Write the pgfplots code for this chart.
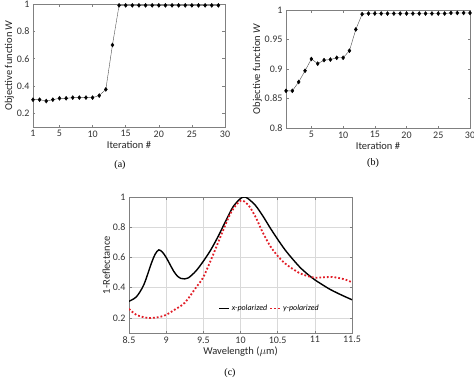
\documentclass[border=0pt]{standalone}
\usepackage{fontspec}
\setmainfont{Carlito}
\newfontfamily\capfont{Liberation Serif}
\usepackage{pgfplots}
\pgfplotsset{compat=1.18}
\definecolor{myred}{RGB}{225,30,40}
\begin{document}
\begin{tikzpicture}
\useasboundingbox (0pt,0pt) rectangle (474pt,384pt);
\pgfplotsset{
  every axis/.append style={
    scale only axis,
    /pgf/number format/assume math mode=true,
    tick label style={font=\fontsize{10}{11}\selectfont, text=black!80},
    label style={font=\fontsize{10.5}{12}\selectfont, text=black!85},
    axis line style={gray},
    every tick/.style={gray},
    tick align=inside,
    major tick length=2.5pt,
  }
}
% (a)
\begin{axis}[at={(33pt,257pt)}, anchor=south west, width=192pt, height=123pt,
  xmin=1, xmax=30, ymin=0.1, ymax=1,
  xtick={1,5,10,15,20,25,30}, ytick={0.2,0.4,0.6,0.8,1},
  xlabel={Iteration \#}, ylabel={Objective function \textit{W}},
  xlabel style={yshift=3pt}, ylabel style={yshift=-4pt},
  clip=false]
\addplot[black!70, thin, mark=diamond*, mark size=2pt, mark options={black, fill=black}] coordinates {
(1,0.30)(2,0.30)(3,0.29)(4,0.30)(5,0.31)(6,0.31)(7,0.315)(8,0.315)(9,0.315)(10,0.315)
(11,0.33)(12,0.375)(13,0.70)(14,0.99)(15,0.99)(16,0.99)(17,0.99)(18,0.99)(19,0.99)(20,0.99)
(21,0.99)(22,0.99)(23,0.99)(24,0.99)(25,0.99)(26,0.99)(27,0.99)(28,0.99)(29,0.99)};
\end{axis}
% (b)
\begin{axis}[at={(286pt,256pt)}, anchor=south west, width=184pt, height=118pt,
  xmin=1, xmax=30, ymin=0.8, ymax=1,
  xtick={5,10,15,20,25,30}, ytick={0.8,0.85,0.9,0.95,1},
  yticklabels={0.8,0.85,0.9,0.95,1},
  xlabel={Iteration \#}, ylabel={Objective function \textit{W}},
  xlabel style={yshift=3pt}, ylabel style={yshift=-4pt},
  clip=false]
\addplot[black!70, thin, mark=diamond*, mark size=2pt, mark options={black, fill=black}] coordinates {
(1,0.863)(2,0.863)(3,0.878)(4,0.897)(5,0.917)(6,0.909)(7,0.915)(8,0.916)(9,0.919)(10,0.919)
(11,0.931)(12,0.967)(13,0.993)(14,0.994)(15,0.994)(16,0.994)(17,0.994)(18,0.994)(19,0.994)(20,0.994)
(21,0.994)(22,0.994)(23,0.994)(24,0.994)(25,0.994)(26,0.994)(27,0.995)(28,0.995)(29,0.995)(30,0.995)};
\end{axis}
% (c)
\begin{axis}[at={(129pt,51pt)}, anchor=south west, width=223pt, height=136pt,
  xmin=8.5, xmax=11.5, ymin=0.1, ymax=1,
  xtick={8.5,9,9.5,10,10.5,11,11.5}, ytick={0.2,0.4,0.6,0.8,1},
  xticklabels={8.5,9,9.5,10,10.5,11,11.5},
  grid=major, grid style={black!15},
  xlabel={Wavelength ($\mu$m)}, ylabel={1-Reflectance},
  xlabel style={yshift=3pt}, ylabel style={yshift=-4pt},
  legend style={at={(0.4,0.18)}, anchor=west, draw=none, fill=none,
    font=\fontsize{8}{9}\selectfont\itshape, legend columns=2,
    /tikz/every even column/.append style={column sep=0pt},
    inner sep=0pt},
  legend image code/.code={\draw[#1] (0pt,0pt) -- (10pt,0pt);}]
\addplot[black, line width=1.4pt, smooth] coordinates {
(8.5,0.31)(8.6,0.34)(8.7,0.42)(8.8,0.56)(8.85,0.62)(8.9,0.65)(8.95,0.635)(9.0,0.60)(9.05,0.555)(9.1,0.51)
(9.15,0.477)(9.2,0.461)(9.25,0.458)(9.3,0.465)(9.4,0.51)(9.5,0.575)(9.6,0.65)(9.7,0.74)(9.8,0.84)(9.9,0.935)
(10.0,0.99)(10.05,1.0)(10.1,0.99)
(10.2,0.945)(10.3,0.875)(10.4,0.795)(10.5,0.72)(10.6,0.65)(10.7,0.59)(10.8,0.535)(10.9,0.49)(11.0,0.452)
(11.1,0.42)(11.2,0.39)(11.3,0.365)(11.4,0.342)(11.5,0.32)};
\addlegendentry{x-polarized}
\addplot[myred, line width=1.8pt, dotted, smooth] coordinates {
(8.5,0.26)(8.6,0.22)(8.75,0.20)(8.9,0.205)(9.0,0.22)(9.1,0.25)(9.25,0.30)(9.4,0.40)(9.5,0.47)(9.625,0.61)
(9.75,0.76)(9.875,0.90)(10.0,0.975)(10.1,0.95)(10.2,0.87)(10.3,0.765)(10.4,0.675)(10.5,0.61)(10.6,0.56)
(10.7,0.525)(10.8,0.495)(10.9,0.477)(11.0,0.466)(11.1,0.468)(11.25,0.47)(11.4,0.455)(11.5,0.435)};
\addlegendentry{y-polarized}
\end{axis}
\node[font=\capfont\fontsize{10}{11}\selectfont] at (120pt,219pt) {(a)};
\node[font=\capfont\fontsize{10}{11}\selectfont] at (373pt,221pt) {(b)};
\node[font=\capfont\fontsize{10}{11}\selectfont] at (230pt,11pt) {(c)};
\end{tikzpicture}
\end{document}
